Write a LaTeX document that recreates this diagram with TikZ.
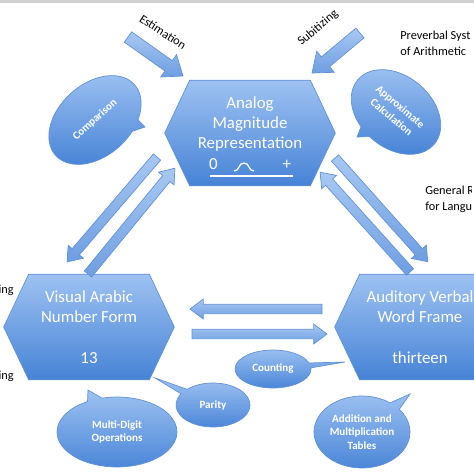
\documentclass[tikz,border=0pt]{standalone}
\usepackage{fontspec}
\setmainfont{Carlito}
\usetikzlibrary{positioning}
\usetikzlibrary{calc,shapes.callouts,backgrounds}
\definecolor{hexTop}{RGB}{158,194,242}
\definecolor{hexBot}{RGB}{70,131,214}
\definecolor{hexLine}{RGB}{98,146,214}
\definecolor{arrTop}{RGB}{168,200,242}
\definecolor{arrBot}{RGB}{110,158,226}
\colorlet{stripC}{black!18}

\newcommand{\blockarrow}[5]{%
\path[blockarr] let \p1=($(#2)-(#1)$), \n1={atan2(\y1,\x1)}, \n2={veclen(\x1,\y1)} in
  [shift={(#1)}, rotate=\n1]
  (0pt,-#3) -- (\n2-#5,-#3) -- (\n2-#5,-#4) -- (\n2,0pt) -- (\n2-#5,#4) -- (\n2-#5,#3) -- (0pt,#3) -- cycle;}

\begin{document}
\begin{tikzpicture}[x=0.02cm,y=-0.02cm,
  hexbox/.style={shape=rectangle,minimum width=3.4cm,minimum height=2.1cm,inner sep=0pt,
    text=white,align=center,font=\fontsize{9.6}{11.6}\selectfont},
  hexfill/.style={top color=hexTop,bottom color=hexBot,draw=hexLine,line width=0.4pt},
  blockarr/.style={top color=arrTop,bottom color=arrBot,draw=hexLine,line width=0.4pt},
  bubble/.style={ellipse callout,top color=hexTop,bottom color=hexBot,draw=hexLine,
    text=white,align=center,inner sep=0pt,font=\bfseries\fontsize{6.3}{7.8}\selectfont},
  lbl/.style={text=black,align=left,inner sep=0pt,font=\fontsize{7}{9}\selectfont}]
\clip (0,0) rectangle (474,474);
\fill[stripC] (0,0) rectangle (474,3);

\node[hexbox] (amr) at (250,133) {Analog\\Magnitude\\Representation\\0\hspace{37pt}+};
\node[hexbox] (vanf) at (89,327) {Visual Arabic\\Number Form\\[11.6pt]13};
\node[hexbox] (avwf) at (420,327) {Auditory Verbal\\Word Frame\\[11.6pt]thirteen};

\begin{pgfonlayer}{background}
\foreach \h in {amr,vanf,avwf}{
  \draw[hexfill] (\h.west) -- ($(\h.north west)+(25,0)$) -- ($(\h.north east)+(-25,0)$)
    -- (\h.east) -- ($(\h.south east)+(-25,0)$) -- ($(\h.south west)+(25,0)$) -- cycle;
}
\end{pgfonlayer}

% scale under the analog representation
\draw[white,line width=0.7pt] (234,171) .. controls (240,171) and (238,163) .. (244,163)
  .. controls (250,163) and (248,171) .. (254,171);
\draw[white,line width=0.7pt] (210,176) -- (293,176);

\coordinate (a1s) at (157,157); \coordinate (a1e) at (67,262);
\coordinate (a2s) at (88,274);  \coordinate (a2e) at (175,168);
\coordinate (b1s) at (335,158); \coordinate (b1e) at (428,262);
\coordinate (b2s) at (410,272); \coordinate (b2e) at (320,172);
\coordinate (c1s) at (322,309); \coordinate (c1e) at (190,309);
\coordinate (c2s) at (192,334); \coordinate (c2e) at (327,334);
\coordinate (ests) at (128,37); \coordinate (este) at (183,76);
\coordinate (subs) at (360,33); \coordinate (sube) at (312,73);

\foreach \s/\e in {a1s/a1e,a2s/a2e,b1s/b1e,b2s/b2e,c1s/c1e,c2s/c2e}{
  \blockarrow{\s}{\e}{2.7pt}{5.7pt}{7.6pt}
}
\blockarrow{ests}{este}{3.6pt}{7.8pt}{10pt}
\blockarrow{subs}{sube}{3.6pt}{7.8pt}{10pt}

\node[bubble,minimum width=2.12cm,minimum height=1.44cm,callout absolute pointer={(145,127)},rotate=42]
  (cmp) at (95,120) {Comparison};
\node[bubble,minimum width=2.0cm,minimum height=1.44cm,callout absolute pointer={(357,137)},rotate=-40]
  (apc) at (396,112) {Approximate\\Calculation};
\node[bubble,minimum width=1.52cm,minimum height=0.76cm,callout absolute pointer={(345,362)}]
  (cnt) at (273,369) {Counting};
\node[bubble,minimum width=1.48cm,minimum height=0.88cm,callout absolute pointer={(155,378)}]
  (par) at (213,405) {Parity};
\node[bubble,minimum width=2.4cm,minimum height=1.4cm,callout absolute pointer={(88,390)}]
  (mdo) at (117,432) {Multi-Digit\\Operations};
\node[bubble,minimum width=1.92cm,minimum height=1.44cm,callout absolute pointer={(410,394)}]
  (amt) at (362,432) {Addition and\\Multiplication\\Tables};

\node[lbl,rotate=-33] (estl) at (163,32) {Estimation};
\node[lbl,rotate=40] (subl) at (318,28) {Subitizing};
\node[lbl,anchor=east] (lf1) at (14,290) {ling};
\node[lbl,anchor=east] (lf2) at (14,376) {ting};
\begin{scope}
\clip (380,0) rectangle (471,240);
\node[lbl,anchor=west] (pvs) at (400,43) {Preverbal Syst\\of Arithmetic};
\node[lbl,anchor=west] (gen) at (425,199) {General R\\for Langu};
\end{scope}
\end{tikzpicture}
\end{document}
